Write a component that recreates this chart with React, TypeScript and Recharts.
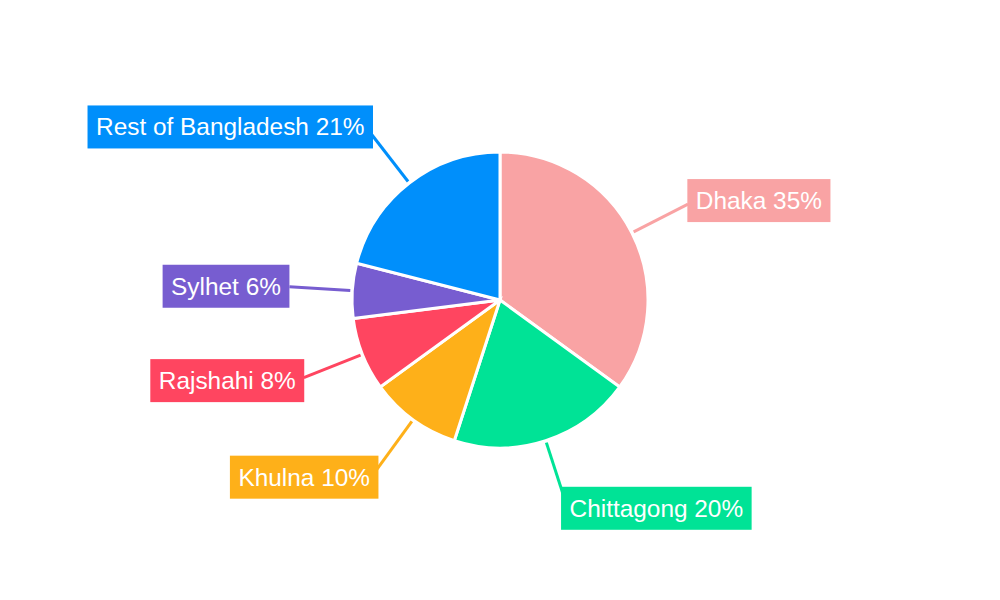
import { PieChart, Pie, Cell } from 'recharts';

const regions = ['Dhaka', 'Chittagong', 'Khulna', 'Rajshahi', 'Sylhet', 'Rest of Bangladesh'];
const shares = [35, 20, 10, 8, 6, 21];
const colors = ['#f9a3a4', '#00e396', '#feb019', '#ff4560', '#775dd0', '#008ffb'];

const data = regions.map((name, i) => ({ name, value: shares[i] }));

const FONT = '"Liberation Sans", Arial, sans-serif';
const FONT_SIZE = 24.4;
const RAD = Math.PI / 180;

let ctx: CanvasRenderingContext2D | null = null;
function textWidth(s: string) {
  if (!ctx) ctx = document.createElement('canvas').getContext('2d');
  if (!ctx) return s.length * FONT_SIZE * 0.55;
  ctx.font = `${FONT_SIZE}px ${FONT}`;
  return ctx.measureText(s).width;
}

function renderLabel(props: any) {
  const { cx, cy, midAngle, outerRadius, index, name, value } = props;
  const dx = Math.cos(-midAngle * RAD);
  const dy = Math.sin(-midAngle * RAD);
  const sx = cx + (outerRadius + 2) * dx;
  const sy = cy + (outerRadius + 2) * dy;
  const ex = cx + (outerRadius + 63) * dx;
  const ey = cy + (outerRadius + 63) * dy;
  const text = `${name} ${value}%`;
  const w = textWidth(text) + 17;
  const h = 43;
  const shift = 6 * (1 - Math.abs(dx));
  const left = dx >= 0 ? ex - shift : ex + shift - w;
  const midY = ey + 8 * dy;
  const color = colors[index % colors.length];
  return (
    <g key={`lbl-${index}`}>
      <line x1={sx} y1={sy} x2={ex} y2={ey} stroke={color} strokeWidth={3} />
      <rect x={left} y={midY - h / 2} width={w} height={h} fill={color} />
      <text
        x={left + w / 2}
        y={midY}
        fill="#fff"
        textAnchor="middle"
        dominantBaseline="central"
        fontFamily={FONT}
        fontSize={FONT_SIZE}
      >
        {text}
      </text>
    </g>
  );
}

export default function App() {
  return (
    <div style={{ position: 'absolute', left: 0, top: 0, width: 1000, height: 600, background: '#fff' }}>
      <PieChart width={1000} height={600} margin={{ top: 0, right: 0, bottom: 0, left: 0 }}>
        <Pie
          data={data}
          dataKey="value"
          nameKey="name"
          cx={500}
          cy={300}
          outerRadius={148}
          startAngle={90}
          endAngle={-270}
          stroke="#fff"
          strokeWidth={3}
          label={renderLabel}
          labelLine={false}
          isAnimationActive={false}
        >
          {data.map((d, i) => (
            <Cell key={d.name} fill={colors[i]} />
          ))}
        </Pie>
      </PieChart>
    </div>
  );
}
